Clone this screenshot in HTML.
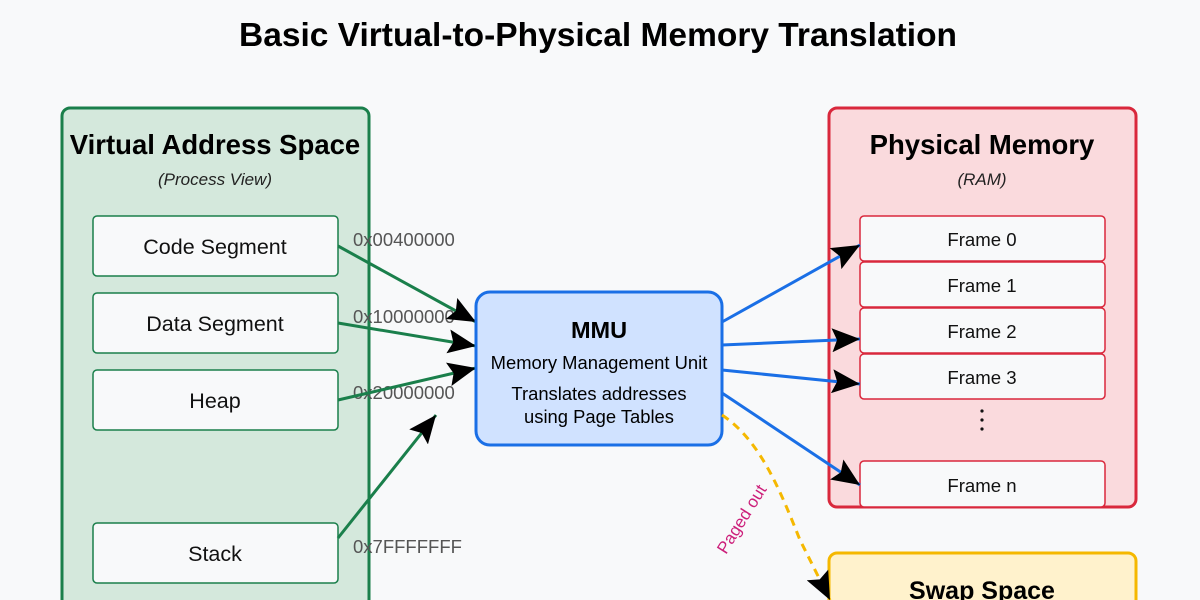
<!DOCTYPE html>
<html><head><meta charset="utf-8"><style>
html,body{margin:0;padding:0;background:#f8f9fa;width:1200px;height:600px;overflow:hidden;}
svg{display:block;font-family:"Liberation Sans",Arial,sans-serif;}
</style></head><body>
<svg width="1200" height="600" viewBox="0 0 1200 600" xmlns="http://www.w3.org/2000/svg">
<defs>
<marker id="a" viewBox="0 0 28 24" refX="28" refY="12" markerWidth="28" markerHeight="24" markerUnits="userSpaceOnUse" orient="auto"><path d="M0,0 L28,12 L0,24 L5,12 z" fill="#000"/></marker>
</defs>
<rect width="1200" height="600" fill="#f8f9fa"/>
<text x="598" y="46" font-size="33.5" font-weight="bold" text-anchor="middle" fill="#000">Basic Virtual-to-Physical Memory Translation</text>

<rect x="62" y="108" width="307" height="520" rx="8" fill="#d4e8dc" stroke="#1a7f4b" stroke-width="3"/>
<text x="215" y="154" font-size="27.5" font-weight="bold" text-anchor="middle">Virtual Address Space</text>
<text x="215" y="185" font-size="17" font-style="italic" text-anchor="middle" fill="#222">(Process View)</text>
<g fill="#f8f9fa" stroke="#1a7f4b" stroke-width="1.5">
<rect x="93" y="216" width="245" height="60" rx="4"/>
<rect x="93" y="293" width="245" height="60" rx="4"/>
<rect x="93" y="370" width="245" height="60" rx="4"/>
<rect x="93" y="523" width="245" height="60" rx="4"/>
</g>
<g font-size="21.5" text-anchor="middle" fill="#111">
<text x="215" y="254">Code Segment</text>
<text x="215" y="331">Data Segment</text>
<text x="215" y="408">Heap</text>
<text x="215" y="561">Stack</text>
</g>
<g font-size="18.5" fill="#555">
<text x="353" y="246">0x00400000</text>
<text x="353" y="323">0x10000000</text>
<text x="353" y="399">0x20000000</text>
<text x="353" y="553">0x7FFFFFFF</text>
</g>

<g stroke="#1a7f4b" stroke-width="3" fill="none" marker-end="url(#a)">
<line x1="338" y1="246" x2="476" y2="322"/>
<line x1="338" y1="323" x2="476" y2="346"/>
<line x1="338" y1="400" x2="476" y2="368"/>
<line x1="338" y1="538" x2="436" y2="415"/>
</g>

<rect x="476" y="292" width="246" height="153" rx="14" fill="#d0e2ff" stroke="#1a6fe6" stroke-width="3"/>
<text x="599" y="338" font-size="23.5" font-weight="bold" text-anchor="middle">MMU</text>
<text x="599" y="369" font-size="18.4" text-anchor="middle">Memory Management Unit</text>
<text x="599" y="400" font-size="18.4" text-anchor="middle">Translates addresses</text>
<text x="599" y="423" font-size="18.4" text-anchor="middle">using Page Tables</text>

<rect x="829" y="108" width="307" height="399" rx="8" fill="#fadadd" stroke="#d9283c" stroke-width="3"/>
<text x="982" y="154" font-size="27.5" font-weight="bold" text-anchor="middle">Physical Memory</text>
<text x="982" y="185" font-size="17" font-style="italic" text-anchor="middle" fill="#222">(RAM)</text>
<g fill="#f8f9fa" stroke="#d9283c" stroke-width="1.5">
<rect x="860" y="216" width="245" height="45" rx="4"/>
<rect x="860" y="262" width="245" height="45" rx="4"/>
<rect x="860" y="308" width="245" height="45" rx="4"/>
<rect x="860" y="354" width="245" height="45" rx="4"/>
<rect x="860" y="461" width="245" height="46" rx="4"/>
</g>
<g font-size="18.6" text-anchor="middle" fill="#111">
<text x="982" y="246">Frame 0</text>
<text x="982" y="292">Frame 1</text>
<text x="982" y="338">Frame 2</text>
<text x="982" y="384">Frame 3</text>
<text x="982" y="492">Frame n</text>
</g>
<g fill="#111"><circle cx="982" cy="411" r="1.6"/><circle cx="982" cy="420" r="1.6"/><circle cx="982" cy="429" r="1.6"/></g>

<g stroke="#1a6fe6" stroke-width="3" fill="none" marker-end="url(#a)">
<line x1="722" y1="322" x2="860" y2="245"/>
<line x1="722" y1="345" x2="860" y2="339"/>
<line x1="722" y1="370" x2="860" y2="384"/>
<line x1="722" y1="393" x2="860" y2="485"/>
</g>

<rect x="829" y="553" width="307" height="80" rx="8" fill="#fff2cc" stroke="#f5b800" stroke-width="3"/>
<text x="982" y="599" font-size="25" font-weight="bold" text-anchor="middle">Swap Space</text>

<path d="M722,415 C760,440 780,490 800,540 L830,600" stroke="#f5b800" stroke-width="3" stroke-dasharray="8,6" fill="none" marker-end="url(#a)"/>
<text x="0" y="0" font-size="17" fill="#cc1f7a" transform="translate(726,555) rotate(-58)">Paged out</text>
</svg>
</body></html>
